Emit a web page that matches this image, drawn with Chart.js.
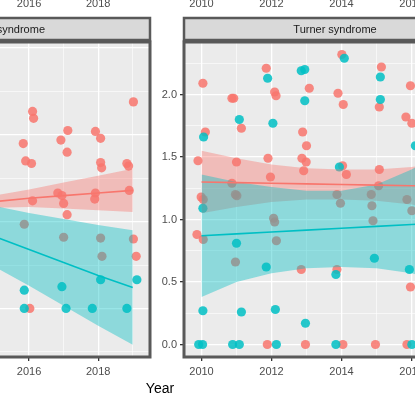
<!DOCTYPE html>
<html><head><meta charset="utf-8">
<script src="https://cdn.jsdelivr.net/npm/chart.js@4"></script>
<style>
html,body{margin:0;padding:0;width:415px;height:415px;overflow:hidden;background:#fff;position:relative}
canvas{position:absolute;top:0}
</style></head><body>
<canvas id="cl" width="356" height="415" style="left:-200px"></canvas>
<canvas id="cr" width="400" height="415" style="left:140px"></canvas>
<script>
// ---------- data ----------
const bandYears = [2010,2011,2012,2013,2014,2015,2016,2017,2018,2019];
const topTickYears = [2010,2012,2014,2016,2018];
// Right panel: Turner syndrome
const turnerRedX = [2010.04,2011.85,2015.14,2014.01,2013.08,2012.09,2012.13,2013.90,2014.05,2015.08,2015.97,2010.87,2010.92,2015.84,2016.01,2010.11,2011.14,2012.89,2013.00,2009.90,2011.00,2011.90,2012.87,2012.99,2012.92,2011.97,2014.03,2014.14,2015.08,2010.87,2015.06,2009.99,2010.97,2011.01,2013.87,2013.97,2014.85,2014.87,2015.87,2016.01,2010.05,2012.06,2012.09,2014.90,2012.14,2009.87,2010.05,2010.97,2012.85,2013.87,2015.97,2011.88,2012.97,2014.04,2014.97,2015.87];
const turnerRedY = [2.09,2.21,2.22,2.32,2.05,2.02,1.99,2.01,1.92,1.90,2.07,1.97,1.97,1.82,1.77,1.70,1.73,1.70,1.59,1.47,1.46,1.49,1.49,1.46,1.39,1.34,1.43,1.36,1.40,1.29,1.27,1.18,1.20,1.19,1.20,1.13,1.20,1.11,1.16,1.07,1.16,1.01,0.98,0.99,0.83,0.88,0.84,0.66,0.60,0.60,0.46,0,0,0,0,0];
const turnerTealX = [2010.06,2011.89,2012.85,2012.95,2014.08,2015.11,2015.11,2012.95,2011.08,2012.04,2016.11,2013.94,2010.04,2011.00,2011.85,2014.94,2015.94,2013.84,2010.04,2011.14,2012.11,2012.97,2009.92,2010.03,2010.89,2011.08,2012.14,2013.84,2016.01];
const turnerTealY = [1.66,2.13,2.19,2.20,2.29,2.14,1.96,1.95,1.80,1.77,1.59,1.42,1.09,0.81,0.62,0.69,0.60,0.56,0.27,0.26,0.28,0.17,0,0,0,0,0,0,0];
const turnerRedFit = [1.30,1.295,1.29,1.285,1.28,1.275,1.27,1.265,1.26,1.255];
const turnerRedHi = [1.55,1.49,1.44,1.41,1.40,1.40,1.42,1.46,1.51,1.57];
const turnerRedLo = [1.05,1.10,1.14,1.16,1.16,1.15,1.12,1.07,1.01,0.94];
const turnerTealFit = [0.87,0.885,0.90,0.915,0.93,0.945,0.96,0.975,0.99,1.005];
const turnerTealHi = [1.36,1.30,1.26,1.23,1.23,1.28,1.40,1.55,1.72,1.90];
const turnerTealLo = [0.38,0.50,0.57,0.61,0.62,0.61,0.57,0.50,0.42,0.32];
// Left panel
const leftRedX = [2016.10,2016.13,2015.83,2015.90,2016.07,2017.12,2016.92,2017.10,2017.92,2018.07,2018.07,2018.10,2018.83,2018.88,2019.02,2016.10,2016.83,2016.95,2017.00,2017.10,2017.92,2017.90,2018.90,2015.86,2017.00,2018.07,2018.11,2019.02,2019.10,2016.02];
const leftRedY = [2.27,2.19,1.90,1.70,1.67,2.05,1.94,1.80,2.04,1.96,1.68,1.62,1.67,1.64,2.38,1.24,1.33,1.30,1.21,1.08,1.33,1.26,1.36,0.97,0.82,0.81,0.60,0.80,0.60,0];
const leftTealX = [2015.86,2016.95,2018.07,2019.12,2015.86,2017.07,2017.83,2018.83];
const leftTealY = [0.21,0.25,0.33,0.33,0,0,0,0];
const leftRedFit = [1.07,1.10,1.14,1.17,1.20,1.23,1.27,1.30,1.33,1.36];
const leftRedHi = [1.37,1.34,1.32,1.29,1.28,1.30,1.37,1.45,1.53,1.61];
const leftRedLo = [0.77,0.86,0.96,1.05,1.12,1.16,1.17,1.15,1.13,1.11];
const leftTealFit = [1.57,1.42,1.27,1.12,0.97,0.83,0.68,0.53,0.38,0.24];
const leftTealHi = [1.82,1.62,1.47,1.37,1.27,1.18,1.10,1.03,0.96,0.90];
const leftTealLo = [1.32,1.22,1.07,0.87,0.67,0.48,0.26,0.03,-0.20,-0.42];

const RED='#F8766D', TEAL='#00BFC4';
const pts=(xs,ys)=>xs.map((x,i)=>({x,y:ys[i]}));
function sets(rx,ry,tx,ty,rf,rh,rl,tf,th,tl){
  const line=(arr)=>pts(bandYears,arr);
  return [
    {type:'scatter',data:pts(rx,ry),backgroundColor:'rgba(248,118,109,0.85)',borderWidth:0,pointRadius:4.6,order:10},
    {type:'scatter',data:pts(tx,ty),backgroundColor:'rgba(0,191,196,0.85)',borderWidth:0,pointRadius:4.6,order:9},
    {type:'line',data:line(rh),borderWidth:0,pointRadius:0,fill:'+1',backgroundColor:'rgba(248,118,109,0.4)',order:6},
    {type:'line',data:line(rl),borderWidth:0,pointRadius:0,fill:false,order:6},
    {type:'line',data:line(th),borderWidth:0,pointRadius:0,fill:'+1',backgroundColor:'rgba(0,191,196,0.4)',order:5},
    {type:'line',data:line(tl),borderWidth:0,pointRadius:0,fill:false,order:5},
    {type:'line',data:line(rf),borderColor:RED,borderWidth:1.6,pointRadius:0,fill:false,order:2},
    {type:'line',data:line(tf),borderColor:TEAL,borderWidth:1.6,pointRadius:0,fill:false,order:1}
  ];
}
const FONT='"Liberation Sans", Arial, sans-serif';
function deco(strip,stripAlign,stripX,yearLabel){
  return {id:'deco',
    beforeDraw(c){const a=c.chartArea,g=c.ctx;g.save();g.fillStyle='#ebebeb';g.fillRect(a.left,a.top,a.right-a.left,a.bottom-a.top);g.restore();},
    afterDraw(c){
      const a=c.chartArea,g=c.ctx,xs=c.scales.x;g.save();
      g.strokeStyle='#595959';g.lineWidth=3;g.strokeRect(a.left,a.top,a.right-a.left,a.bottom-a.top);
      g.fillStyle='#d9d9d9';g.fillRect(a.left,18,a.right-a.left,22);
      g.lineWidth=2.5;g.strokeRect(a.left,18,a.right-a.left,22);
      g.fillStyle='#1a1a1a';g.font='11px '+FONT;g.textBaseline='middle';g.textAlign=stripAlign;
      g.fillText(strip,stripX,30);
      g.fillStyle='#4d4d4d';g.textAlign='center';
      topTickYears.forEach(y=>g.fillText(String(y),xs.getPixelForValue(y),4));
      if(yearLabel){g.fillStyle='#000';g.font='14px '+FONT;g.fillText('Year',yearLabel,389);}
      g.restore();}};
}
function opts(ymin,ymax,showY){
  return {responsive:false,animation:false,devicePixelRatio:1,
    layout:{padding:{top:42,right:6,left:0,bottom:0}},
    plugins:{legend:{display:false},tooltip:{enabled:false}},
    scales:{
      x:{type:'linear',min:2009.5,max:2019.5,
        afterBuildTicks(s){s.ticks=[];for(let v=2010;v<=2019;v++)s.ticks.push({value:v});},
        afterFit(s){s.height=58;},
        border:{display:false},
        grid:{color:'#fff',lineWidth:c=>c.tick&&c.tick.value%2===0?1.3:0.6,tickLength:4,tickColor:c=>c.tick&&c.tick.value%2===0?'#333':'rgba(0,0,0,0)',drawTicks:true},
        ticks:{autoSkip:false,maxRotation:0,padding:4,color:'#4d4d4d',font:{size:11,family:FONT},callback:v=>v%2===0?String(v):''}},
      y:{min:ymin,max:ymax,
        afterBuildTicks(s){s.ticks=[];const st=showY?0.25:0.5;for(let v=Math.ceil(ymin/st)*st;v<=ymax+1e-9;v+=st)s.ticks.push({value:Math.round(v*100)/100});},
        afterFit(s){s.width=showY?44:0;},
        border:{display:false},
        grid:{color:'#fff',lineWidth:c=>{const v=c.tick?c.tick.value:0;return Math.abs(v*2-Math.round(v*2))<1e-6&&(showY||Math.abs(v-Math.round(v))<1e-6)?1.3:0.6;},
          tickLength:4,drawTicks:showY,tickColor:c=>c.tick&&Math.abs(c.tick.value*2-Math.round(c.tick.value*2))<1e-6?'#333':'rgba(0,0,0,0)'},
        ticks:{display:showY,autoSkip:false,padding:3,color:'#4d4d4d',font:{size:11,family:FONT},
          callback:v=>Math.abs(v*2-Math.round(v*2))<1e-6?v.toFixed(1):''}}
    }};
}
new Chart(document.getElementById('cl'),{type:'scatter',
  data:{datasets:sets(leftRedX,leftRedY,leftTealX,leftTealY,leftRedFit,leftRedHi,leftRedLo,leftTealFit,leftTealHi,leftTealLo)},
  options:opts(-0.56,3.07,false),plugins:[deco('Klinefelter syndrome','right',245,null)]});
new Chart(document.getElementById('cr'),{type:'scatter',
  data:{datasets:sets(turnerRedX,turnerRedY,turnerTealX,turnerTealY,turnerRedFit,turnerRedHi,turnerRedLo,turnerTealFit,turnerTealHi,turnerTealLo)},
  options:opts(-0.1,2.42,true),plugins:[deco('Turner syndrome','center',195,20)]});
</script></body></html>
